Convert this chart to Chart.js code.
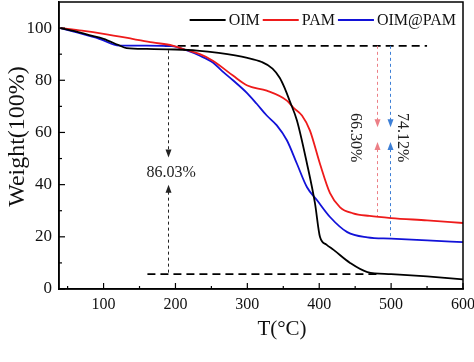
<!DOCTYPE html>
<html><head><meta charset="utf-8">
<script src="https://cdn.jsdelivr.net/npm/chart.js@4"></script>
<style>html,body{margin:0;padding:0;background:#fff;overflow:hidden}#wrap{width:474px;height:362px;position:relative}</style>
</head><body><div id="wrap"><canvas id="c" width="474" height="362"></canvas></div>
<script>
// ---- data ----
const oimT = [40,60,80,100,120,132,160,200,230,260,300,320,335,345,352,359,369,383,394,401,410,420,443,467,500,550,600];
const oimW = [100,98.8,97.3,95.9,93.6,92.3,92,91.8,91.4,90.5,88.6,87,84.5,81,77,72,64.6,48,33,20,17,15,10,6.5,5.7,4.8,3.7];
const pamT = [40,70,100,140,168,196,215,234,252,280,300,327,355,364,376,387,401,415,429,447,470,500,550,600];
const pamW = [100,99,97.8,95.9,94.5,93.3,91.6,90,87.5,81.8,78,76,72.2,69.5,66.5,60.8,48,36.7,31.3,29,28,27.2,26.3,25.3];
const hybT = [40,60,94,122,160,195,215,234,252,265,280,300,313,327,341,355,369,383,397,415,439,467,500,550,600];
const hybW = [100,98.5,95.9,93.3,93.3,93.1,91.5,89.4,86.8,83.5,80,75,71,66.5,62.7,57,48,39,34,27.6,21.8,19.8,19.3,18.6,18];
const seriesNames = ['OIM','PAM','OIM@PAM'];
const xTickValues = [50,100,150,200,250,300,350,400,450,500,550,600];
const yTickValues = [0,10,20,30,40,50,60,70,80,90,100];

// annotation values (data units)
const guideLevels = [93.2, 5.7];            // dashed horizontal levels
const guideFrom = [185, 161];
const guideTo = [550, 480];
const lossLabels = ['86.03%','66.30%','74.12%'];
const lossT = [189, 480, 499];
const lossTop = [91.5, 93.2, 93.2];
const lossBottom = [5.7, 27.8, 19.5];
const arrowDownTip = [50.4, 62, 62];
const arrowUpTip = [40, 56.3, 56.3];
const labelT = [194, 450, 516];
const labelW = [44.7, 58, 58];

const FONT = "'Liberation Serif','Times New Roman',serif";
const lossColors = ['#222222','#ec7f86','#3d7fd6'];

const annot = {
  id: 'annot',
  beforeDatasetsDraw(chart) {
    const {ctx, scales: {x, y}} = chart;
    ctx.save();
    ctx.strokeStyle = '#000'; ctx.lineWidth = 1.6; ctx.setLineDash([8, 5]);
    guideLevels.forEach((lv, i) => {
      ctx.beginPath();
      ctx.moveTo(x.getPixelForValue(guideFrom[i]), y.getPixelForValue(lv));
      ctx.lineTo(x.getPixelForValue(guideTo[i]), y.getPixelForValue(lv));
      ctx.stroke();
    });
    lossT.forEach((t, i) => {
      const px = Math.round(x.getPixelForValue(t)) + 0.5;
      const c = lossColors[i];
      const top = y.getPixelForValue(lossTop[i]);
      const bot = y.getPixelForValue(lossBottom[i]);
      const dTip = y.getPixelForValue(arrowDownTip[i]);
      const uTip = y.getPixelForValue(arrowUpTip[i]);
      ctx.strokeStyle = c; ctx.fillStyle = c; ctx.lineWidth = 1;
      ctx.setLineDash([3, 3]);
      ctx.beginPath(); ctx.moveTo(px, top); ctx.lineTo(px, dTip - 7); ctx.stroke();
      ctx.beginPath(); ctx.moveTo(px, uTip + 7); ctx.lineTo(px, bot); ctx.stroke();
      ctx.setLineDash([]);
      ctx.beginPath(); ctx.moveTo(px, dTip); ctx.lineTo(px - 3, dTip - 8); ctx.lineTo(px + 3, dTip - 8); ctx.closePath(); ctx.fill();
      ctx.beginPath(); ctx.moveTo(px, uTip); ctx.lineTo(px - 3, uTip + 8); ctx.lineTo(px + 3, uTip + 8); ctx.closePath(); ctx.fill();
    });
    ctx.fillStyle = '#222'; ctx.font = '16px ' + FONT;
    ctx.textAlign = 'center'; ctx.textBaseline = 'middle';
    lossLabels.forEach((s, i) => {
      const px = x.getPixelForValue(labelT[i]);
      const py = y.getPixelForValue(labelW[i]);
      ctx.save(); ctx.translate(px, py);
      if (i > 0) ctx.rotate(Math.PI / 2);
      ctx.fillText(s, 0, 0);
      ctx.restore();
    });
    ctx.restore();
  },
  afterDraw(chart) {
    const {ctx, chartArea: a, scales: {x, y}} = chart;
    ctx.save();
    ctx.strokeStyle = '#000'; ctx.lineWidth = 1.5;
    ctx.strokeRect(a.left, a.top, a.right - a.left, a.bottom - a.top);
    ctx.lineWidth = 1.2;
    x.ticks.forEach(tk => {
      const px = x.getPixelForValue(tk.value);
      const len = tk.value % 100 === 0 ? 6 : 3;
      ctx.beginPath(); ctx.moveTo(px, a.bottom); ctx.lineTo(px, a.bottom - len); ctx.stroke();
    });
    y.ticks.forEach(tk => {
      const py = y.getPixelForValue(tk.value);
      const len = tk.value % 20 === 0 ? 6 : 3;
      ctx.beginPath(); ctx.moveTo(a.left, py); ctx.lineTo(a.left + len, py); ctx.stroke();
    });
    // legend inside the plot, top right
    ctx.font = '16px ' + FONT; ctx.textBaseline = 'middle'; ctx.textAlign = 'left';
    const ds = chart.data.datasets;
    const lineLen = 36, gapText = 3, gapItem = 3;
    let total = 0;
    ds.forEach((d, i) => { total += lineLen + gapText + ctx.measureText(d.label).width + (i < ds.length - 1 ? gapItem : 0); });
    let cx = a.right - 7 - total;
    const ly = a.top + 18;
    ds.forEach(d => {
      ctx.strokeStyle = d.borderColor; ctx.lineWidth = 1.8;
      ctx.beginPath(); ctx.moveTo(cx, ly); ctx.lineTo(cx + lineLen, ly); ctx.stroke();
      cx += lineLen + gapText;
      ctx.fillStyle = '#111'; ctx.fillText(d.label, cx, ly + 1);
      cx += ctx.measureText(d.label).width + gapItem;
    });
    ctx.restore();
  }
};

const mk = (T, W) => T.map((t, i) => ({x: t, y: W[i]}));

new Chart(document.getElementById('c'), {
  type: 'line',
  data: {
    datasets: [
      {label: seriesNames[0], data: mk(oimT, oimW), borderColor: '#000000', borderWidth: 1.8},
      {label: seriesNames[1], data: mk(pamT, pamW), borderColor: '#ee1b1b', borderWidth: 1.8},
      {label: seriesNames[2], data: mk(hybT, hybW), borderColor: '#1212d8', borderWidth: 1.8}
    ]
  },
  options: {
    responsive: false, animation: false, devicePixelRatio: 1,
    layout: {padding: {top: 2, right: 11, left: 0, bottom: 0}},
    elements: {point: {radius: 0}, line: {cubicInterpolationMode: 'monotone', fill: false}},
    plugins: {
      tooltip: {enabled: false},
      legend: {display: false}
    },
    scales: {
      x: {
        type: 'linear', min: 38, max: 600,
        grid: {display: false, drawTicks: false},
        border: {display: true, color: '#000', width: 1.5},
        afterBuildTicks: s => { s.ticks = xTickValues.map(v => ({value: v})); },
        afterFit: s => { s.height = 73; s.paddingLeft = 0; s.paddingRight = 0; },
        ticks: {autoSkip: false, maxRotation: 0, padding: 6, color: '#111', font: {family: FONT, size: 16},
          callback: v => (v % 100 === 0 ? String(v) : '')},
        title: {display: true, text: '        T(°C)', color: '#111', font: {family: FONT, size: 21}, padding: {top: 0, bottom: 20}}
      },
      y: {
        type: 'linear', min: 0, max: 110,
        grid: {display: false, drawTicks: false},
        border: {display: true, color: '#000', width: 1.5},
        afterBuildTicks: s => { s.ticks = yTickValues.map(v => ({value: v})); },
        afterFit: s => { s.width = 59; s.paddingTop = 0; s.paddingBottom = 0; },
        ticks: {autoSkip: false, padding: 7, color: '#111', font: {family: FONT, size: 17},
          callback: v => (v % 20 === 0 ? String(v) : '')},
        title: {display: true, text: '   Weight(100%)', color: '#111', font: {family: FONT, size: 24}, padding: {top: 3, bottom: 0}}
      }
    }
  },
  plugins: [annot]
});
</script>
</body></html>
